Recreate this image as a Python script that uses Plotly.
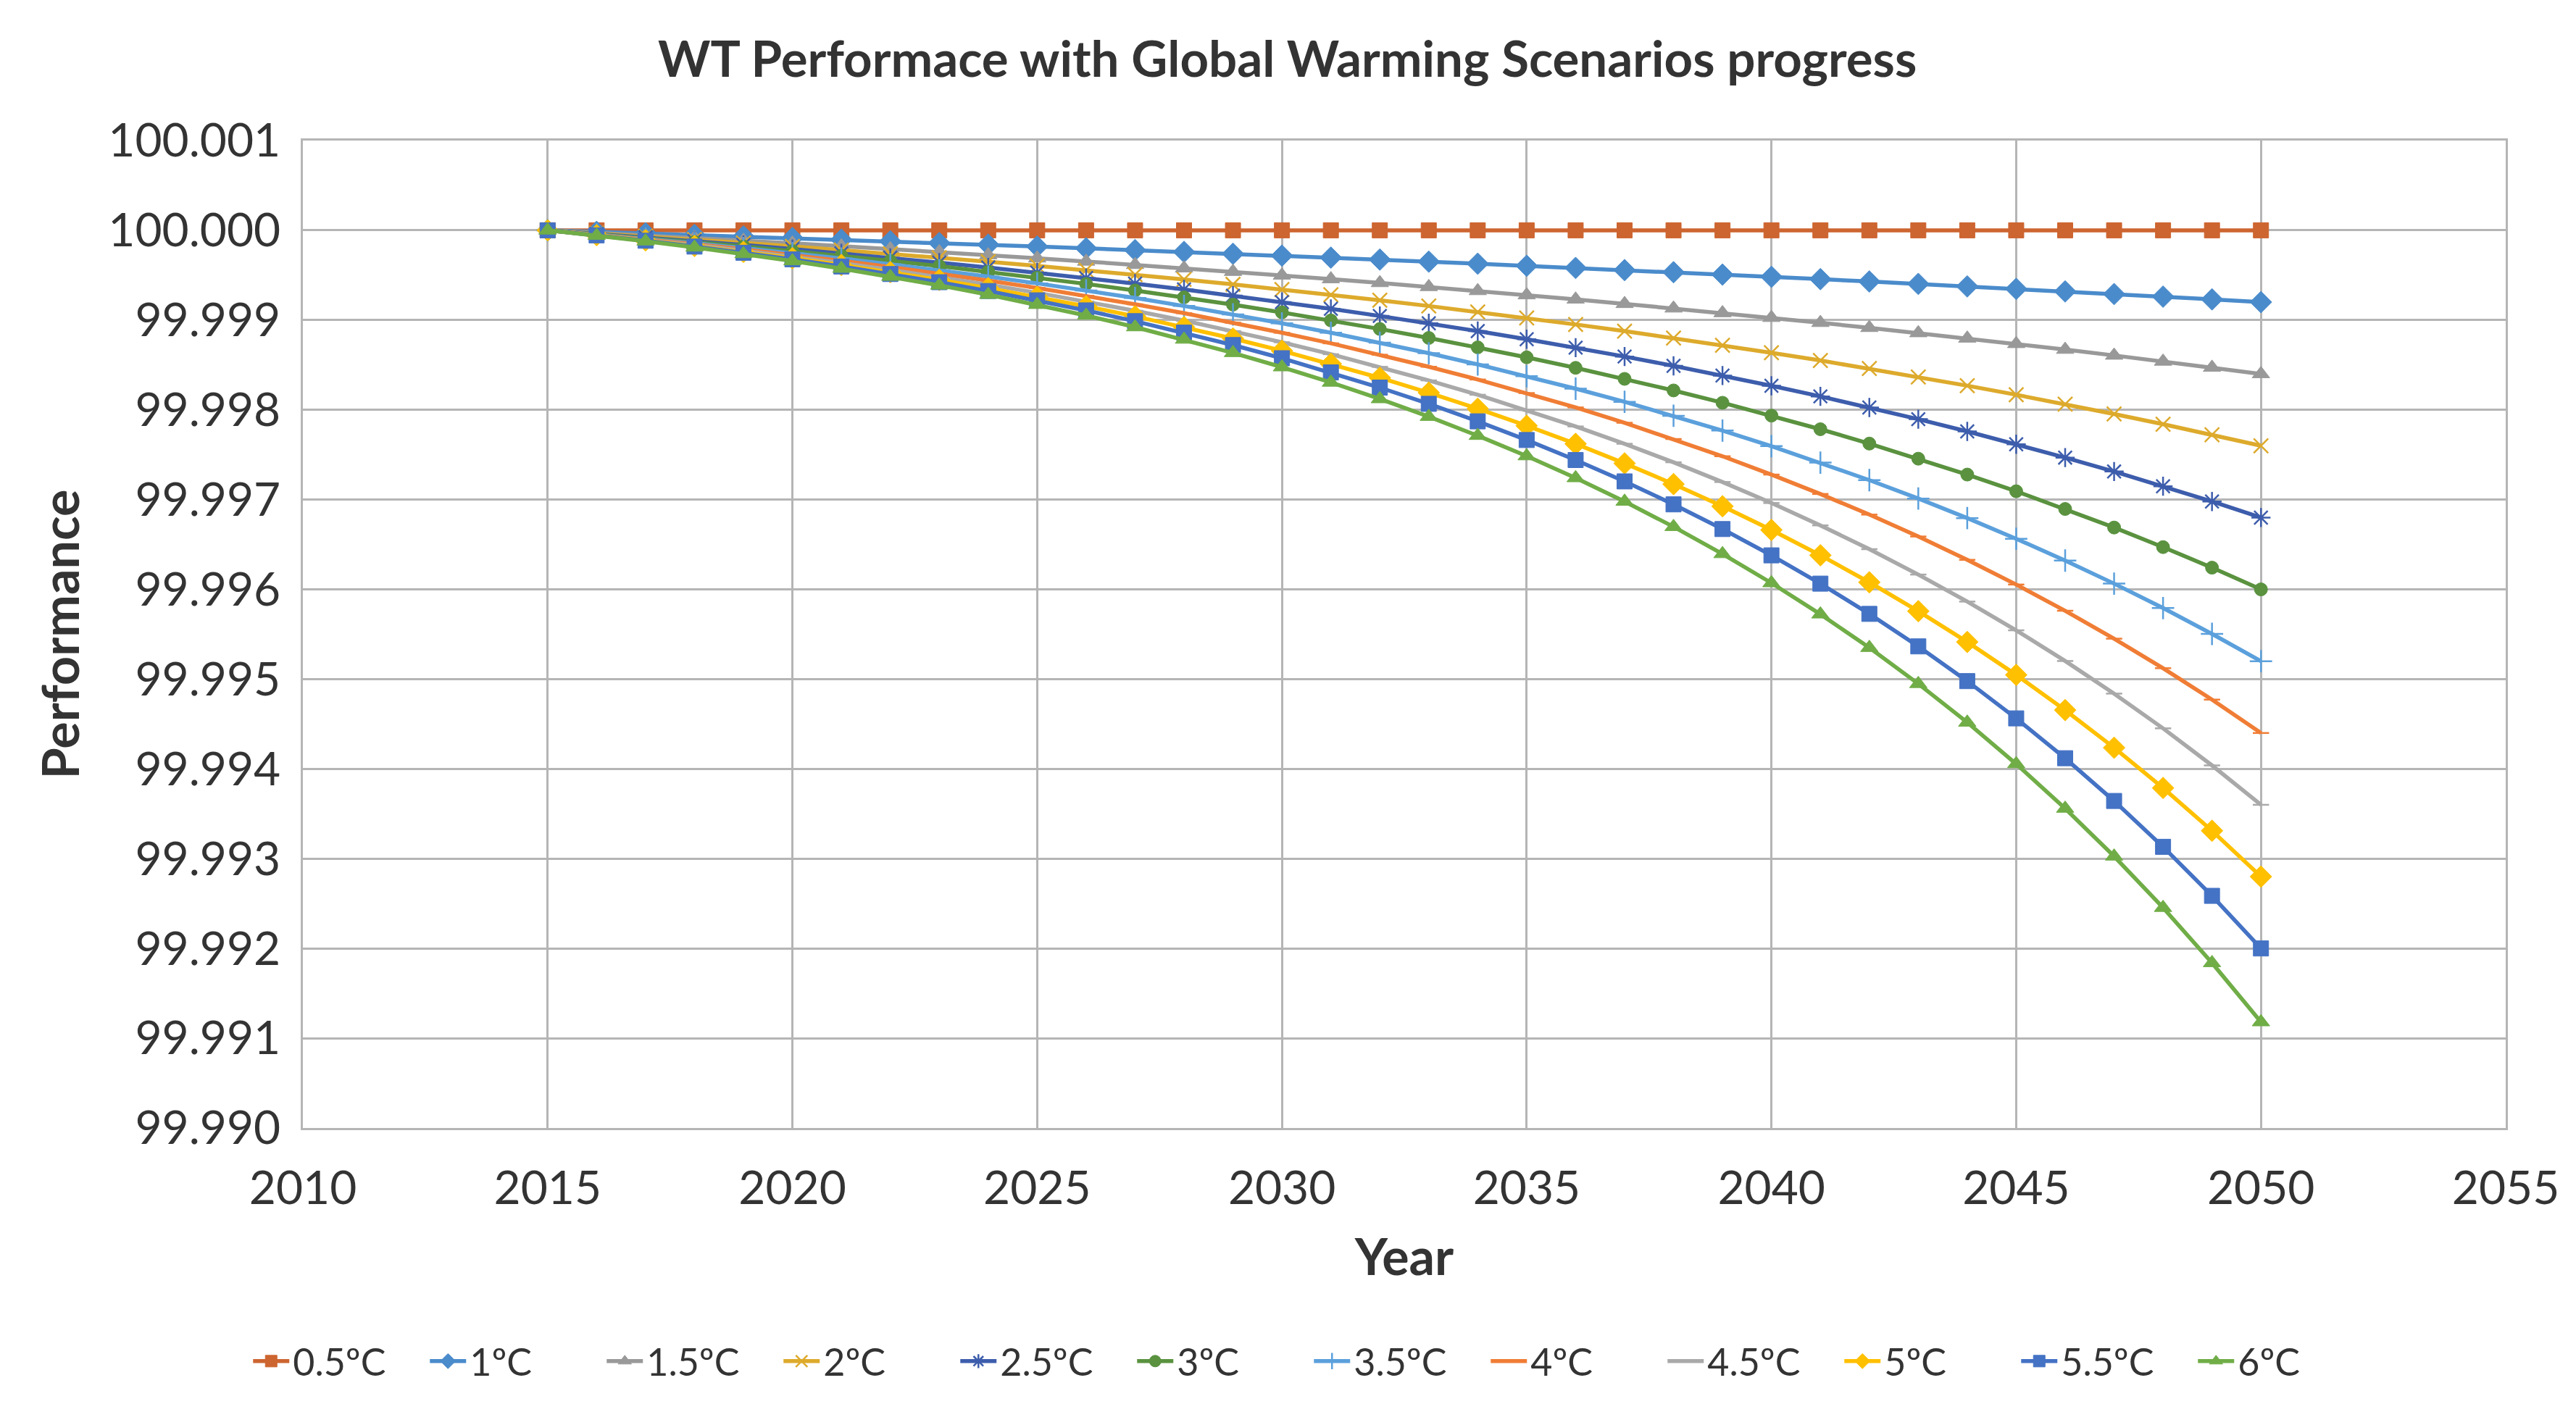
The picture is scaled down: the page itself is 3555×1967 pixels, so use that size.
import plotly.graph_objects as go

years = [2015, 2016, 2017, 2018, 2019, 2020, 2021, 2022, 2023, 2024, 2025, 2026,
         2027, 2028, 2029, 2030, 2031, 2032, 2033, 2034, 2035, 2036, 2037, 2038,
         2039, 2040, 2041, 2042, 2043, 2044, 2045, 2046, 2047, 2048, 2049, 2050]

s_0_5 = [100.000000] * 36

s_1_0 = [100.000000, 99.999983, 99.999967, 99.999949, 99.999932, 99.999914, 99.999896, 99.999878,
         99.999859, 99.999840, 99.999820, 99.999800, 99.999780, 99.999760, 99.999739, 99.999718,
         99.999696, 99.999674, 99.999651, 99.999628, 99.999605, 99.999581, 99.999557, 99.999533,
         99.999507, 99.999482, 99.999456, 99.999430, 99.999403, 99.999375, 99.999347, 99.999319,
         99.999290, 99.999261, 99.999231, 99.999200]

s_1_5 = [100.000000, 99.999973, 99.999945, 99.999916, 99.999886, 99.999856, 99.999824, 99.999792,
         99.999759, 99.999724, 99.999689, 99.999653, 99.999616, 99.999578, 99.999539, 99.999498,
         99.999457, 99.999414, 99.999370, 99.999325, 99.999278, 99.999231, 99.999181, 99.999131,
         99.999079, 99.999026, 99.998970, 99.998914, 99.998856, 99.998796, 99.998735, 99.998671,
         99.998606, 99.998539, 99.998471, 99.998400]

s_2_0 = [100.000000, 99.999967, 99.999933, 99.999897, 99.999860, 99.999821, 99.999781, 99.999739,
         99.999696, 99.999651, 99.999604, 99.999556, 99.999505, 99.999453, 99.999398, 99.999341,
         99.999282, 99.999221, 99.999157, 99.999091, 99.999023, 99.998951, 99.998877, 99.998800,
         99.998720, 99.998636, 99.998550, 99.998460, 99.998366, 99.998269, 99.998168, 99.998063,
         99.997954, 99.997840, 99.997722, 99.997600]

s_2_5 = [100.000000, 99.999962, 99.999922, 99.999880, 99.999837, 99.999791, 99.999744, 99.999694,
         99.999641, 99.999586, 99.999529, 99.999469, 99.999406, 99.999341, 99.999272, 99.999200,
         99.999125, 99.999046, 99.998964, 99.998877, 99.998787, 99.998693, 99.998594, 99.998490,
         99.998382, 99.998268, 99.998150, 99.998026, 99.997896, 99.997760, 99.997617, 99.997468,
         99.997313, 99.997149, 99.996979, 99.996800]

s_3_0 = [100.000000, 99.999959, 99.999915, 99.999869, 99.999821, 99.999770, 99.999717, 99.999660,
         99.999601, 99.999538, 99.999473, 99.999403, 99.999330, 99.999253, 99.999172, 99.999086,
         99.998996, 99.998901, 99.998801, 99.998696, 99.998585, 99.998468, 99.998345, 99.998216,
         99.998079, 99.997936, 99.997784, 99.997624, 99.997456, 99.997279, 99.997093, 99.996896,
         99.996689, 99.996471, 99.996242, 99.996000]

s_3_5 = [100.000000, 99.999955, 99.999907, 99.999856, 99.999802, 99.999746, 99.999686, 99.999622,
         99.999555, 99.999484, 99.999409, 99.999330, 99.999246, 99.999157, 99.999063, 99.998964,
         99.998859, 99.998748, 99.998631, 99.998506, 99.998375, 99.998236, 99.998089, 99.997934,
         99.997769, 99.997596, 99.997412, 99.997217, 99.997012, 99.996794, 99.996564, 99.996321,
         99.996064, 99.995792, 99.995504, 99.995200]

s_4_0 = [100.000000, 99.999952, 99.999900, 99.999846, 99.999788, 99.999727, 99.999661, 99.999592,
         99.999519, 99.999440, 99.999358, 99.999270, 99.999176, 99.999077, 99.998971, 99.998859,
         99.998741, 99.998614, 99.998480, 99.998338, 99.998187, 99.998027, 99.997856, 99.997675,
         99.997483, 99.997279, 99.997063, 99.996833, 99.996589, 99.996329, 99.996054, 99.995762,
         99.995451, 99.995122, 99.994772, 99.994400]

s_4_5 = [100.000000, 99.999948, 99.999894, 99.999835, 99.999773, 99.999706, 99.999636, 99.999560,
         99.999480, 99.999395, 99.999304, 99.999207, 99.999104, 99.998994, 99.998877, 99.998753,
         99.998620, 99.998479, 99.998328, 99.998168, 99.997997, 99.997815, 99.997622, 99.997416,
         99.997196, 99.996962, 99.996713, 99.996448, 99.996165, 99.995864, 99.995544, 99.995202,
         99.994839, 99.994452, 99.994039, 99.993600]

s_5_0 = [100.000000, 99.999946, 99.999888, 99.999826, 99.999760, 99.999690, 99.999614, 99.999534,
         99.999448, 99.999356, 99.999258, 99.999154, 99.999042, 99.998922, 99.998795, 99.998658,
         99.998512, 99.998357, 99.998191, 99.998013, 99.997823, 99.997621, 99.997404, 99.997173,
         99.996926, 99.996662, 99.996380, 99.996079, 99.995757, 99.995414, 99.995047, 99.994655,
         99.994236, 99.993788, 99.993311, 99.992800]

s_5_5 = [100.000000, 99.999944, 99.999884, 99.999819, 99.999750, 99.999677, 99.999597, 99.999513,
         99.999422, 99.999324, 99.999220, 99.999108, 99.998988, 99.998860, 99.998722, 99.998575,
         99.998417, 99.998248, 99.998067, 99.997872, 99.997664, 99.997441, 99.997203, 99.996947,
         99.996672, 99.996379, 99.996064, 99.995727, 99.995365, 99.994978, 99.994563, 99.994119,
         99.993643, 99.993132, 99.992586, 99.992000]

s_6_0 = [100.000000, 99.999941, 99.999878, 99.999810, 99.999737, 99.999658, 99.999574, 99.999484,
         99.999387, 99.999283, 99.999171, 99.999051, 99.998922, 99.998784, 99.998635, 99.998476,
         99.998305, 99.998121, 99.997924, 99.997712, 99.997485, 99.997241, 99.996979, 99.996697,
         99.996395, 99.996071, 99.995723, 99.995350, 99.994948, 99.994518, 99.994055, 99.993559,
         99.993026, 99.992454, 99.991839, 99.991180]

series_names = ["0.5ºC", "1ºC", "1.5ºC", "2ºC", "2.5ºC", "3ºC",
                "3.5ºC", "4ºC", "4.5ºC", "5ºC", "5.5ºC", "6ºC"]
series_values = [s_0_5, s_1_0, s_1_5, s_2_0, s_2_5, s_3_0,
                 s_3_5, s_4_0, s_4_5, s_5_0, s_5_5, s_6_0]

x_ticks = [2010, 2015, 2020, 2025, 2030, 2035, 2040, 2045, 2050, 2055]
y_ticks = [99.990, 99.991, 99.992, 99.993, 99.994, 99.995,
           99.996, 99.997, 99.998, 99.999, 100.000, 100.001]

colors = ["#CD6530", "#4A8BCB", "#999999", "#DDAA2C", "#3D5DAC", "#5A923F",
          "#5BA0DC", "#F07D35", "#A9A9A9", "#FFC000", "#4472C4", "#70AD47"]
symbols = ["square", "diamond", "triangle-up", "x-thin-open", "asterisk-open", "circle",
           "cross-thin-open", "line-ew-open", "line-ew-open", "diamond", "square", "triangle-up"]
sizes = [21, 23, 21, 20, 22, 18, 22, 16, 16, 23, 21, 21]

FONT = "Lato"
TXT = "#333333"
GRID = "#B5B5B5"

fig = go.Figure()
for name, vals, col, sym, sz in zip(series_names, series_values, colors, symbols, sizes):
    is_open = sym.endswith("-open")
    fig.add_trace(go.Scatter(
        x=years, y=vals, name=name, mode="lines+markers",
        line=dict(color=col, width=5.5),
        marker=dict(symbol=sym, size=sz, color=col,
                    line=dict(color=col, width=2.5 if is_open else 1)),
    ))

fig.update_layout(
    width=3555, height=1967,
    paper_bgcolor="white", plot_bgcolor="white",
    margin=dict(l=410, r=105, t=186, b=418, autoexpand=False),
    font=dict(family=FONT, color=TXT, size=56),
    title=dict(text="<b>WT Performace with Global Warming Scenarios progress</b>",
               xref="container", x=0.4975, xanchor="center",
               yref="container", y=1 - 74 / 1967, yanchor="middle",
               font=dict(family=FONT, size=69, color=TXT)),
    showlegend=True,
    legend=dict(orientation="h", xref="container", x=0.5064, xanchor="center",
                yref="container", y=1 - 1871 / 1967, yanchor="middle",
                font=dict(family=FONT, size=52, color=TXT),
                itemwidth=50, entrywidth=179, entrywidthmode="pixels",
                tracegroupgap=0, bgcolor="rgba(0,0,0,0)"),
)

fig.update_xaxes(
    range=[2010, 2055], tickvals=x_ticks, ticktext=[str(v) for v in x_ticks],
    showgrid=True, gridcolor=GRID, gridwidth=3,
    showline=True, linecolor=GRID, linewidth=3, mirror=True,
    zeroline=False, ticks="", ticklabelstandoff=25,
    tickfont=dict(family=FONT, size=64, color=TXT),
    title=dict(text="<b>Year</b>", font=dict(family=FONT, size=70, color=TXT), standoff=37),
)
fig.update_yaxes(
    range=[99.990, 100.001], tickvals=y_ticks, ticktext=["%.3f" % v for v in y_ticks],
    showgrid=True, gridcolor=GRID, gridwidth=3,
    showline=True, linecolor=GRID, linewidth=3, mirror=True,
    zeroline=False, ticks="", ticklabelstandoff=15,
    tickfont=dict(family=FONT, size=64, color=TXT),
    title=dict(text="<b>Performance</b>", font=dict(family=FONT, size=70, color=TXT), standoff=17),
)

fig.write_html("out.html")
